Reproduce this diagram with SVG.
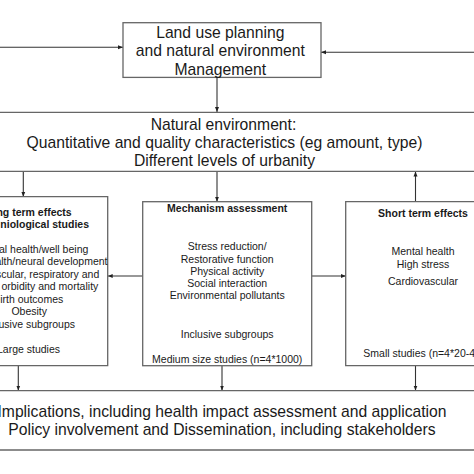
<svg xmlns="http://www.w3.org/2000/svg" width="474" height="474" viewBox="0 0 474 474">
<defs>
<marker id="ah" viewBox="0 0 10 10" refX="10" refY="5" markerWidth="5" markerHeight="5" orient="auto" markerUnits="userSpaceOnUse">
<path d="M0,1 L10,5 L0,9 z" fill="#222"/>
</marker>
<style>
.box{fill:#fff;stroke:#666;stroke-width:1.3}
.ln{fill:none;stroke:#666;stroke-width:1.3}
.c{stroke:#333;stroke-width:1.1;fill:none;marker-end:url(#ah)}
.big{font-family:"Liberation Sans",Arial,sans-serif;font-size:15.7px;fill:#1a1a1a;text-anchor:middle}
.sm{font-family:"Liberation Sans",Arial,sans-serif;font-size:10.5px;fill:#1a1a1a;text-anchor:middle}
.b{font-weight:bold}
.e{text-anchor:end}
.s{text-anchor:start}
</style>
</defs>
<rect width="474" height="474" fill="#fff"/>
<g id="connectors">
<line class="c" x1="0" y1="47.3" x2="123" y2="47.3"/>
<line class="c" x1="474" y1="52.3" x2="321" y2="52.3"/>
<line class="c" x1="217" y1="77.5" x2="217" y2="112"/>
<line class="c" x1="23.3" y1="171.3" x2="23.3" y2="196.7"/>
<line class="c" x1="217" y1="171.3" x2="217" y2="201.7"/>
<line class="c" x1="415.5" y1="201.7" x2="415.5" y2="171.5"/>
<line class="c" x1="142.7" y1="276" x2="107.7" y2="276"/>
<line class="c" x1="311.7" y1="276" x2="345.7" y2="276"/>
<line class="c" x1="18.3" y1="365.7" x2="18.3" y2="390.5"/>
<line class="c" x1="222" y1="365.7" x2="222" y2="390.5"/>
<line class="c" x1="415.5" y1="365.7" x2="415.5" y2="390.5"/>
</g>
<g id="planning">
<rect class="box" x="123" y="22.7" width="198" height="54.7"/>
<text class="big" x="220.3" y="37.5">Land use planning</text>
<text class="big" x="220.3" y="56">and natural environment</text>
<text class="big" x="220.3" y="74.5">Management</text>
</g>
<g id="environment">
<line class="ln" x1="0" y1="112.3" x2="474" y2="112.3"/>
<line class="ln" x1="0" y1="171.3" x2="474" y2="171.3"/>
<text class="big" x="223.5" y="129.5">Natural environment:</text>
<text class="big" x="224.5" y="147.8">Quantitative and quality characteristics (eg amount, type)</text>
<text class="big" x="224.5" y="165.8">Different levels of urbanity</text>
</g>
<g id="longterm">
<path class="ln" d="M-1,196.7 H107.7 V365.7 H-1"/>
<text class="sm b e" x="71.7" y="216">ng term effects</text>
<text class="sm b e" x="89" y="227.7">niological studies</text>
<text class="sm e" x="88.3" y="253.3">al health/well being</text>
<text class="sm e" x="107.5" y="265">alth/neural development</text>
<text class="sm e" x="99.3" y="277.7">scular, respiratory and</text>
<text class="sm e" x="98.3" y="290">orbidity and mortality</text>
<text class="sm e" x="63.3" y="302.7">irth outcomes</text>
<text class="sm" x="29.2" y="315">Obesity</text>
<text class="sm e" x="75" y="327.7">usive subgroups</text>
<text class="sm e" x="60" y="353.3">Large studies</text>
</g>
<g id="mechanism">
<rect class="box" x="142.7" y="201.7" width="169" height="164"/>
<text class="sm b" x="227.2" y="211.7">Mechanism assessment</text>
<text class="sm" x="227.2" y="250">Stress reduction/</text>
<text class="sm" x="227.2" y="262.7">Restorative function</text>
<text class="sm" x="227.2" y="274.5">Physical activity</text>
<text class="sm" x="227.2" y="286.7">Social interaction</text>
<text class="sm" x="227.2" y="299.3">Environmental pollutants</text>
<text class="sm" x="227.2" y="338.3">Inclusive subgroups</text>
<text class="sm" x="227.2" y="363">Medium size studies (n=4*1000)</text>
</g>
<g id="shortterm">
<path class="ln" d="M475,201.7 H345.7 V365.7 H475"/>
<text class="sm b" x="423" y="216.7">Short term effects</text>
<text class="sm" x="423" y="255">Mental health</text>
<text class="sm" x="423" y="268.3">High stress</text>
<text class="sm" x="423" y="285">Cardiovascular</text>
<text class="sm s" x="363.3" y="356.7">Small studies (n=4*20-4</text>
</g>
<g id="implications">
<line class="ln" x1="0" y1="390.7" x2="474" y2="390.7"/>
<line class="ln" x1="0" y1="450" x2="474" y2="450"/>
<text class="big" x="222" y="416.7">Implications, including health impact assessment and application</text>
<text class="big" x="222" y="435">Policy involvement and Dissemination, including stakeholders</text>
</g>
</svg>
